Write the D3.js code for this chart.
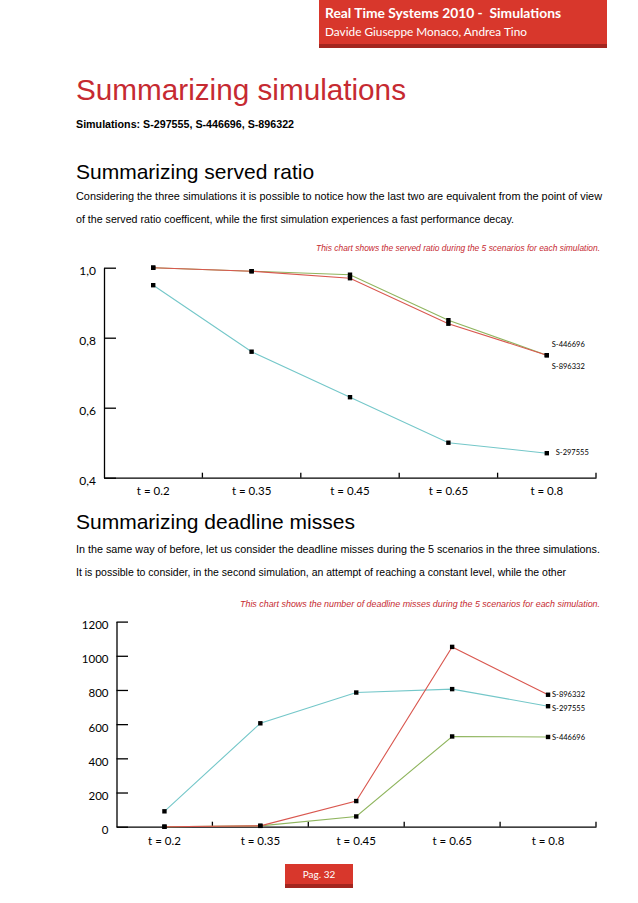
<!DOCTYPE html>
<html>
<head>
    <meta charset="utf-8">
    <script src="https://d3js.org/d3.v7.min.js"></script>
    <style>
        body { margin: 0; background: #fff; }
        svg { display: block; }
    </style>
</head>
<body>
<script>
    // scenarios and simulation results
    var scenarios = ["t = 0.2", "t = 0.35", "t = 0.45", "t = 0.65", "t = 0.8"];

    var servedS297555 = [0.95, 0.76, 0.63, 0.50, 0.47];
    var servedS446696 = [1.00, 0.99, 0.98, 0.85, 0.75];
    var servedS896332 = [1.00, 0.99, 0.97, 0.84, 0.75];
    var servedTicks = [0.4, 0.6, 0.8, 1.0];

    var missesS297555 = [90, 605, 785, 805, 705];
    var missesS446696 = [0, 5, 60, 528, 525];
    var missesS896332 = [0, 5, 150, 1052, 772];
    var missesTicks = [0, 200, 400, 600, 800, 1000, 1200];

    var width = 638, height = 903;
    var red = "#d8372c", darkRed = "#a3261f", titleRed = "#c62a31";
    var cyan = "#74c7c9", green = "#8fb55e", lineRed = "#d9574f";
    var bodyFont = "'Liberation Sans', Arial, Helvetica, sans-serif";
    var chartFont = "Lato, 'Open Sans', sans-serif";

    var svg = d3.select("body").append("svg")
        .attr("width", width)
        .attr("height", height);

    // page texts
    function txt(x, y, s, size, opts) {
        opts = opts || {};
        var t = svg.append("text").attr("x", x).attr("y", y)
            .style("font-family", opts.font || bodyFont)
            .style("font-size", size + "px")
            .attr("fill", opts.fill || "#000")
            .attr("xml:space", "preserve")
            .text(s);
        if (opts.weight) t.style("font-weight", opts.weight);
        if (opts.italic) t.style("font-style", "italic");
        if (opts.anchor) t.attr("text-anchor", opts.anchor);
        if (opts.len) t.attr("textLength", opts.len).attr("lengthAdjust", "spacingAndGlyphs");
        return t;
    }

    // page header
    svg.append("rect").attr("x", 319).attr("y", 0).attr("width", 288).attr("height", 48).attr("fill", darkRed);
    svg.append("rect").attr("x", 319).attr("y", 0).attr("width", 288).attr("height", 44).attr("fill", red);
    txt(325, 18, "Real Time Systems 2010 -  Simulations", 13, {font: "Lato, sans-serif", weight: "bold", fill: "#fff", len: 236});
    txt(325, 36, "Davide Giuseppe Monaco, Andrea Tino", 11.8, {font: "Lato, sans-serif", fill: "#fff", len: 202});

    txt(76, 100, "Summarizing simulations", 29.7, {fill: titleRed});
    txt(76, 128, "Simulations: S-297555, S-446696, S-896322", 10.7, {weight: "bold"});

    txt(76, 179, "Summarizing served ratio", 21);
    txt(76, 200, "Considering the three simulations it is possible to notice how the last two are equivalent from the point of view", 10.5, {len: 526});
    txt(76, 223, "of the served ratio coefficent, while the first simulation experiences a fast performance decay.", 10.5, {len: 438});
    txt(600, 251, "This chart shows the served ratio during the 5 scenarios for each simulation.", 8.3, {italic: true, fill: titleRed, anchor: "end", len: 284});

    txt(76, 529, "Summarizing deadline misses", 21);
    txt(76, 553, "In the same way of before, let us consider the deadline misses during the 5 scenarios in the three simulations.", 10.5, {len: 524});
    txt(76, 576, "It is possible to consider, in the second simulation, an attempt of reaching a constant level, while the other", 10.5, {len: 490});
    txt(600, 607, "This chart shows the number of deadline misses during the 5 scenarios for each simulation.", 8.6, {italic: true, fill: titleRed, anchor: "end", len: 360});

    // footer
    svg.append("rect").attr("x", 285).attr("y", 864).attr("width", 68).attr("height", 24).attr("fill", darkRed);
    svg.append("rect").attr("x", 285).attr("y", 864).attr("width", 68).attr("height", 20).attr("fill", red);
    svg.append("text").attr("x", 319).attr("y", 877.5).attr("text-anchor", "middle")
        .style("font-family", "Lato, sans-serif").style("font-size", "10px")
        .attr("fill", "#fff").text("Pag. 32");

    function drawChart(cfg) {
        var x = d3.scaleBand().domain(scenarios).range([cfg.left, cfg.right]);
        var y = d3.scaleLinear().domain(cfg.domain).range([cfg.bottom, cfg.top]);
        var g = svg.append("g");

        // y axis, ticks pointing into the plot
        var yAxis = g.append("g")
            .attr("transform", "translate(" + cfg.left + ",0)")
            .call(d3.axisLeft(y).tickValues(cfg.ticks).tickFormat(cfg.format)
                .tickSizeInner(-cfg.tickLen).tickSizeOuter(0).tickPadding(8));
        yAxis.selectAll("path, line").attr("stroke", "#000").attr("stroke-width", 1.3);
        yAxis.selectAll("text").attr("dy", "0.6em")
            .style("font-family", chartFont).style("font-size", cfg.yFont + "px").attr("fill", "#000");

        // x axis with labels in the bands and ticks on the band edges
        var xAxis = g.append("g")
            .attr("transform", "translate(0," + cfg.bottom + ")")
            .call(d3.axisBottom(x).tickSize(0).tickPadding(cfg.xPad));
        xAxis.select(".domain").attr("stroke", "#000").attr("stroke-width", 1.3);
        xAxis.selectAll("text")
            .style("font-family", chartFont).style("font-size", "11.5px").attr("fill", "#000");
        g.selectAll(".band-tick")
            .data(scenarios)
          .enter().append("line")
            .attr("x1", function(d) { return x(d) + x.bandwidth(); })
            .attr("x2", function(d) { return x(d) + x.bandwidth(); })
            .attr("y1", cfg.bottom)
            .attr("y2", cfg.bottom - 5)
            .attr("stroke", "#000").attr("stroke-width", 1.3);

        var cx = function(d, i) { return x(scenarios[i]) + x.bandwidth() / 2; };
        var line = d3.line().x(cx).y(function(d) { return y(d); });

        cfg.series.forEach(function(s) {
            g.append("path").datum(s.values)
                .attr("d", line)
                .attr("fill", "none")
                .attr("stroke", s.color)
                .attr("stroke-width", 1.1);
        });
        cfg.series.forEach(function(s) {
            g.selectAll(null).data(s.values).enter().append("rect")
                .attr("x", function(d, i) { return cx(d, i) - 2.2; })
                .attr("y", function(d) { return y(d) - 2.2; })
                .attr("width", 4.4).attr("height", 4.4)
                .attr("fill", "#000");
            var last = s.values.length - 1;
            g.append("text")
                .attr("x", cx(s.values[last], last) + s.dx)
                .attr("y", y(s.values[last]) + s.dy)
                .attr("dy", "0.35em")
                .style("font-family", chartFont).style("font-size", "7.5px")
                .attr("fill", "#000")
                .text(s.name);
        });
    }

    drawChart({
        left: 104, right: 596, top: 267.7, bottom: 477.7,
        domain: [0.4, 1.0], ticks: servedTicks, tickLen: 12, yFont: 12, xPad: 9.5,
        format: function(d) { return d3.format(".1f")(d).replace(".", ","); },
        series: [
            {name: "S-297555", values: servedS297555, color: cyan, dx: 9, dy: -1},
            {name: "S-446696", values: servedS446696, color: green, dx: 5, dy: -10.5},
            {name: "S-896332", values: servedS896332, color: lineRed, dx: 5, dy: 11}
        ]
    });

    drawChart({
        left: 116.5, right: 596, top: 621.6, bottom: 826.7,
        domain: [0, 1200], ticks: missesTicks, tickLen: 11.5, yFont: 11.5, xPad: 10,
        format: d3.format("d"),
        series: [
            {name: "S-297555", values: missesS297555, color: cyan, dx: 4, dy: 2},
            {name: "S-446696", values: missesS446696, color: green, dx: 4, dy: 0},
            {name: "S-896332", values: missesS896332, color: lineRed, dx: 4, dy: 0}
        ]
    });
</script>
</body>
</html>
